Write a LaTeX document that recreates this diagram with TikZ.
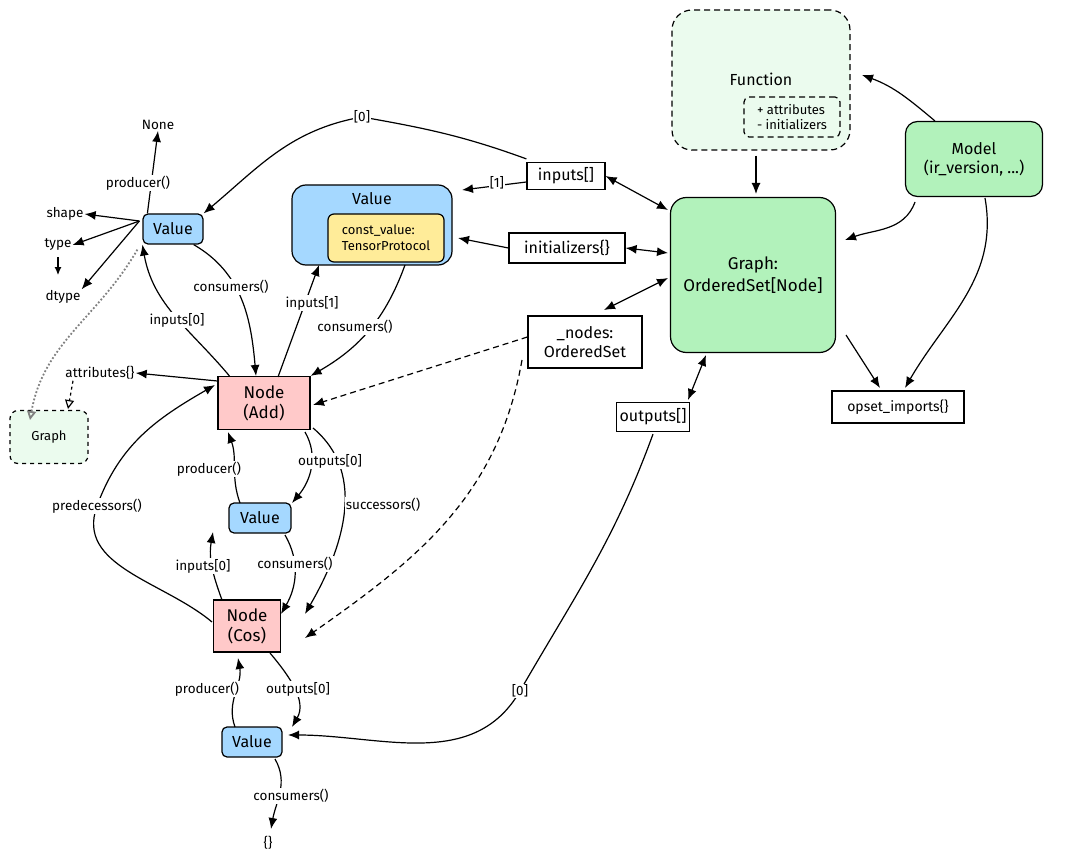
\documentclass[tikz,border=0pt]{standalone}
\usepackage{fontspec}
\setmainfont{Fira Sans}
\usetikzlibrary{arrows.meta,calc}
\begin{document}
\begin{tikzpicture}[x=1pt,y=-1pt,
  ar/.style={-{Latex[length=11pt,width=9pt]},line width=1.2pt},
  dar/.style={{Latex[length=11pt,width=9pt]}-{Latex[length=11pt,width=9pt]},line width=1.2pt},
  box/.style={draw,line width=1.2pt,inner sep=3pt,font=\fontsize{16}{19}\selectfont,align=center},
  lbl/.style={fill=white,inner sep=1pt,font=\fontsize{13.5}{15}\selectfont},
  txt/.style={inner sep=1pt,font=\fontsize{13.5}{15}\selectfont}]
\definecolor{vblue}{HTML}{A5D8FF}
\definecolor{ggreen}{HTML}{B2F2BB}
\definecolor{lgreen}{HTML}{EBFBEE}
\definecolor{nred}{HTML}{FFC9C9}
\definecolor{yel}{HTML}{FFEC99}
\useasboundingbox (0,0) rectangle (1080,861);
% nodes
\node[txt] (none) at (158,125) {None};
\node[box,fill=vblue,rounded corners=5pt,minimum width=60pt,minimum height=30pt] (v1) at (173,229) {Value};
\node[txt] (shape) at (65,214) {shape};
\node[txt] (type) at (58,245) {type};
\node[txt] (dtype) at (63,297) {dtype};
\node[draw,line width=1.2pt,fill=vblue,rounded corners=14pt,minimum width=160pt,minimum height=80pt] (bv) at (372,225) {};
\node[font=\fontsize{16}{19}\selectfont] at (372,199) {Value};
\node[draw,line width=1.2pt,fill=yel,rounded corners=6pt,minimum width=116pt,minimum height=48pt,align=left,font=\fontsize{13}{16}\selectfont,inner sep=2pt] (cv) at (386,238) {const\_value:\\TensorProtocol};
\node[box,minimum width=78pt,minimum height=27pt] (inp) at (566,176) {inputs[]};
\node[box,minimum width=116pt,minimum height=30pt] (ini) at (567,248) {initializers\{\}};
\node[draw,line width=1.2pt,fill=ggreen,rounded corners=16pt,minimum width=165pt,minimum height=155pt,align=center,font=\fontsize{17}{22}\selectfont] (g) at (753,275) {Graph:\\OrderedSet[Node]};
\node[draw,line width=1.2pt,dash pattern=on 6pt off 4pt,fill=lgreen,rounded corners=20pt,minimum width=178pt,minimum height=140pt] (fn) at (761,80) {};
\node[font=\fontsize{16}{19}\selectfont] at (761,79) {Function};
\node[draw,line width=1.2pt,dash pattern=on 6pt off 4pt,rounded corners=5pt,minimum width=96pt,minimum height=40pt,align=left,font=\fontsize{13}{15}\selectfont,inner sep=2pt] (fa) at (792,117) {+ attributes\\- initializers};
\node[box,fill=ggreen,rounded corners=12pt,minimum width=137pt,minimum height=75pt] (m) at (974,159) {Model\\(ir\_version, ...)};
\node[box,minimum width=114pt,minimum height=52pt] (nd) at (585,342) {\_nodes:\\OrderedSet};
\node[box,minimum width=73pt,minimum height=29pt] (out) at (653,417) {outputs[]};
\node[box,minimum width=132pt,minimum height=32pt,font=\fontsize{14}{17}\selectfont] (ops) at (898,407) {opset\_imports\{\}};
\node[txt] (attr) at (100,373) {attributes\{\}};
\node[draw,line width=1.2pt,dash pattern=on 4pt off 4pt,fill=lgreen,rounded corners=8pt,minimum width=78pt,minimum height=53pt,font=\fontsize{13}{15}\selectfont] (sg) at (49,437) {Graph};
\node[box,fill=nred,minimum width=92pt,minimum height=53pt,font=\fontsize{17}{20}\selectfont] (add) at (264,403) {Node\\(Add)};
\node[box,fill=vblue,rounded corners=5pt,minimum width=62pt,minimum height=30pt] (v2) at (260,518) {Value};
\node[box,fill=nred,minimum width=67pt,minimum height=52pt,font=\fontsize{17}{20}\selectfont] (cos) at (247,626) {Node\\(Cos)};
\node[box,fill=vblue,rounded corners=5pt,minimum width=60pt,minimum height=30pt] (v3) at (252,742) {Value};
\node[txt] (emp) at (268,843) {\{\}};
% edges
\draw[ar] (v1.north west) ++(5,0) coordinate (a1) -- (none.south);
\draw[ar] (v1.west) ++(-3,-8) coordinate (f) -- (shape.east);
\draw[ar] (f) -- (type.east);
\draw[ar] (f) -- (dtype.north east);
\draw[-{Latex[length=8pt,width=7pt]},line width=1.2pt] (type.south) ++(0,5) coordinate (t1) -- ++(0,18) coordinate (t2);
\draw[gray,dotted,line width=1.8pt,-{Triangle[open,length=9pt,width=9pt]}] (v1.south west) ++(-5,5) coordinate (d1) to[out=240,in=80] (30,420);
\draw[dash pattern=on 3pt off 3pt,line width=1.2pt,-{Triangle[open,length=9pt,width=9pt]}] (attr.south) ++(-27,0) coordinate (d2) -- (68,409);
\draw[ar] (add.north west) ++(12,0) coordinate (e1) to[out=130,in=-80] (v1.south west);
\draw[ar] ($(v1.south east)+(-10,0)$) to[out=-30,in=95] (256,376);
\draw[ar] (278,377) -- (319,265);
\draw[ar] (405,265) to[out=-110,in=30] (add.north east);
\draw[ar] (add.west|-381,381) -- (attr.east);
\draw[ar] (inp.north west) ++(0,-3) coordinate (e2) to[out=160,in=-10] (362,117) to[out=190,in=40] (v1.north east);
\draw[ar] ($(inp.west)+(0,6)$) -- (462,190);
\draw[dar] (inp.east) -- (668,210);
\draw[ar] (ini.west) -- (458,238);
\draw[dar] (ini.east) -- (668,253);
\draw[dar] (668,278) -- (604,310);
\draw[dar] (706,355) -- (688,400);
\draw[ar] (846,335) -- (880,388);
\draw[ar] (fn.south) ++(-5,5) coordinate (e3) -- (756,194);
\draw[ar] (m.north west) ++(30,0) coordinate (e4) to[out=140,in=-20] (862,75);
\draw[ar] (915,202) to[out=-110,in=20] (845,240);
\draw[ar] (985,198) to[out=-80,in=60] (905,388);
\draw[ar,dash pattern=on 6pt off 4pt] (nd.west) ++(0,-5) coordinate (e5) -- (313,405);
\draw[ar,dash pattern=on 6pt off 4pt] (522,360) to[out=-100,in=35] (305,638);
\draw[ar] (out.south) ++(0,2) coordinate (e6) to[out=-110,in=60] (520,691) to[out=240,in=0] (288,735);
\draw[ar] (305,432) to[out=-60,in=50] (292,503);
\draw[ar] (240,503) to[out=110,in=-70] (228,432);
\draw[ar] (313,428) to[out=-40,in=60] (305,614);
\draw[ar] (212,622) to[out=140,in=-110] (97,506) to[out=70,in=210] (215,385);
\draw[ar] (222,600) to[out=110,in=-100] (213,532);
\draw[ar] (285,535) to[out=-60,in=60] (281,614);
\draw[ar] (270,653) to[out=-50,in=60] (292,727);
\draw[ar] (235,727) to[out=110,in=-80] (238,658);
\draw[ar] (275,759) to[out=-60,in=80] (271,829);
% labels
\node[lbl] (l1) at (138,183) {producer()};
\node[lbl] (l2) at (362,117) {[0]};
\node[lbl] (l3) at (497,183) {[1]};
\node[lbl] (l4) at (231,287) {consumers()};
\node[lbl] (l5) at (177,320) {inputs[0]};
\node[lbl] (l6) at (312,303) {inputs[1]};
\node[lbl] (l7) at (355,327) {consumers()};
\node[lbl] (l8) at (209,469) {producer()};
\node[lbl] (l9) at (330,461) {outputs[0]};
\node[lbl] (l10) at (97,506) {predecessors()};
\node[lbl] (l11) at (383,505) {successors()};
\node[lbl] (l12) at (203,566) {inputs[0]};
\node[lbl] (l13) at (295,564) {consumers()};
\node[lbl] (l14) at (207,689) {producer()};
\node[lbl] (l15) at (298,689) {outputs[0]};
\node[lbl] (l16) at (520,691) {[0]};
\node[lbl] (l17) at (291,796) {consumers()};
\end{tikzpicture}
\end{document}
